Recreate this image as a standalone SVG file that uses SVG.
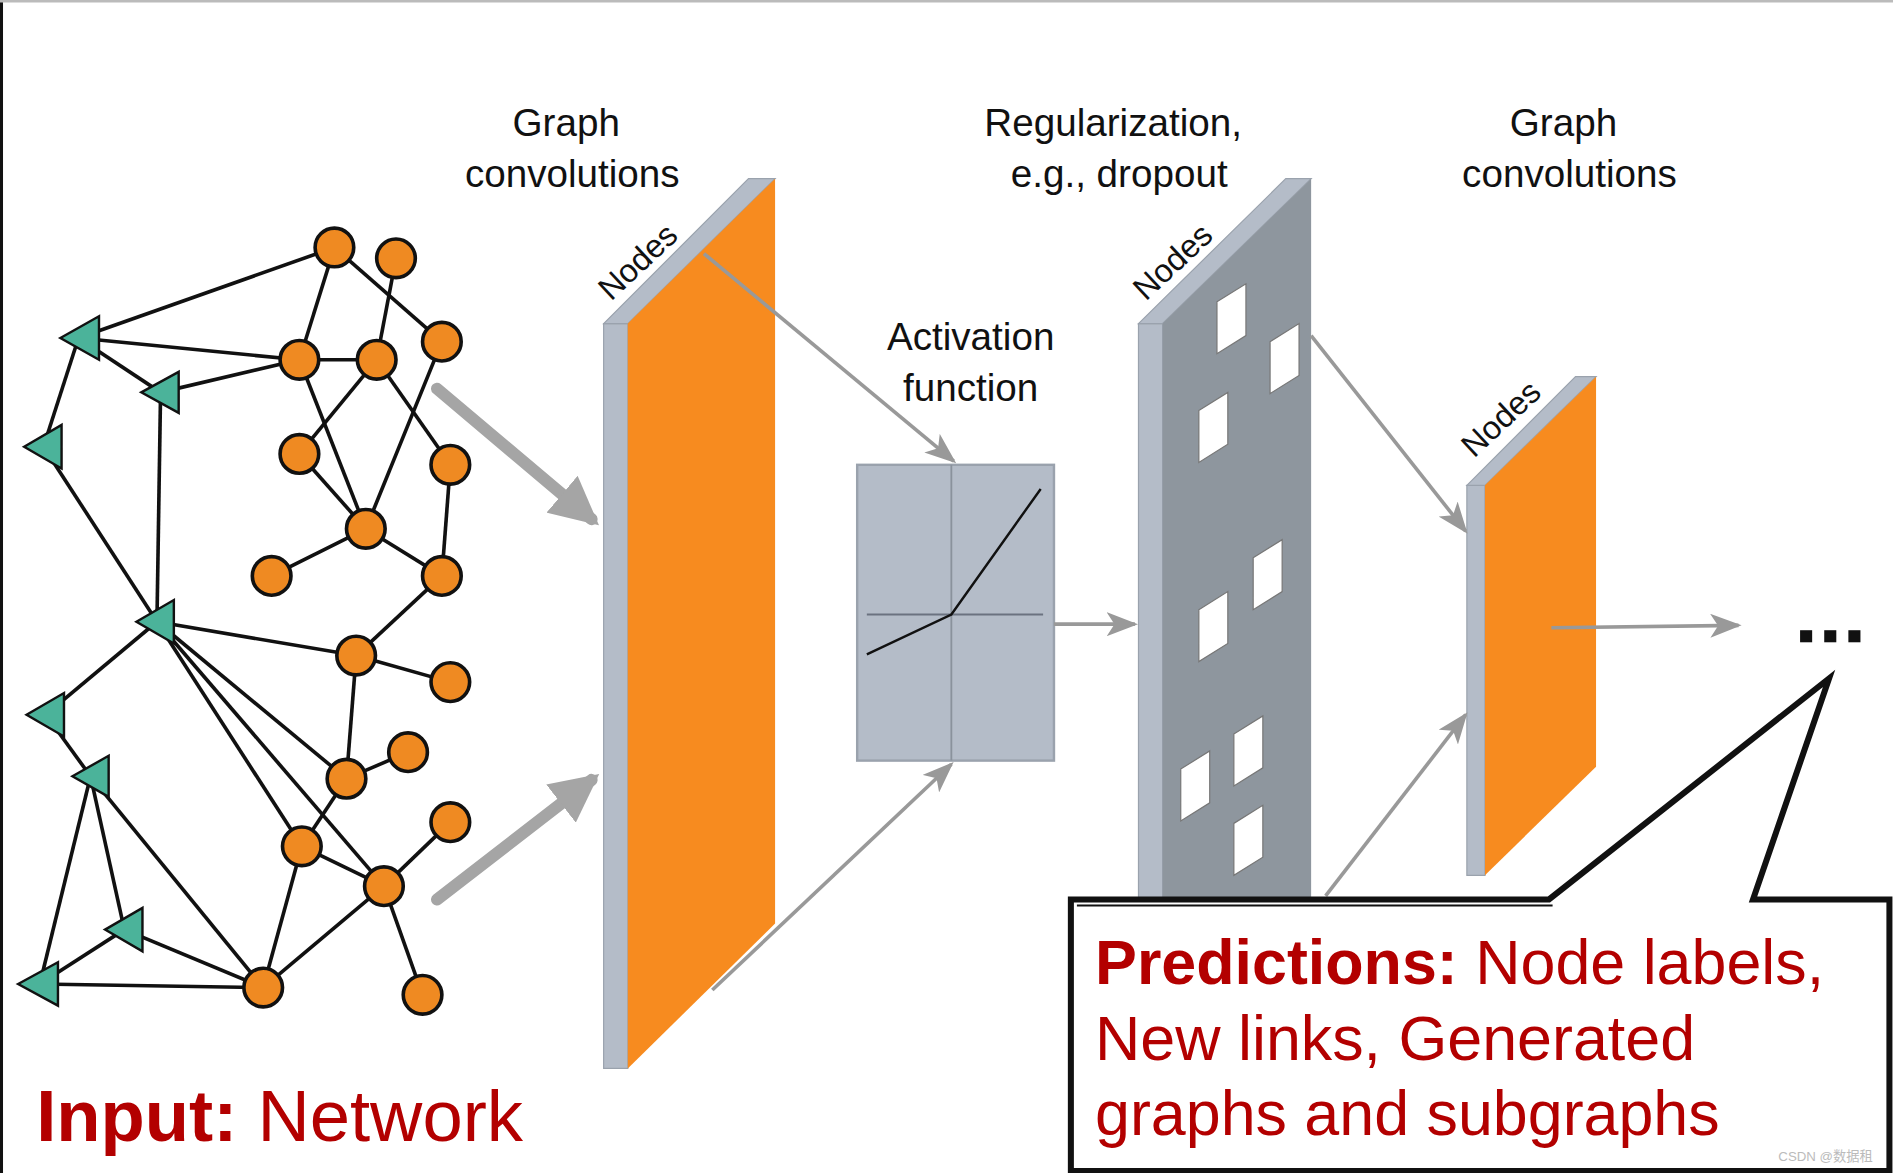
<svg xmlns="http://www.w3.org/2000/svg" width="1893" height="1173" viewBox="0 0 1893 1173">
<defs>
<style>
.e{stroke:#111;stroke-width:3;fill:none}
.o{fill:#ef8a22;stroke:#111;stroke-width:3}
.t{fill:#4bb39a;stroke:#111;stroke-width:2}
.g{stroke:#999;stroke-width:3;fill:none}
.gt{stroke:#a5a5a5;stroke-width:10;fill:none;stroke-linecap:round}
.side{fill:#b4bcc8;stroke:#9aa2ad;stroke-width:1}
.lbl{font-family:"Liberation Sans",Arial,sans-serif;font-size:32px;fill:#111;text-anchor:middle}
.nd{font-family:"Liberation Sans",Arial,sans-serif;font-size:27px;fill:#111}
.red{font-family:"Liberation Sans",Arial,sans-serif;font-size:52px;fill:#b30000}
.win{fill:#fff;stroke:#777;stroke-width:1}
</style>
<marker id="ah" viewBox="0 0 10 10" refX="9" refY="5" markerWidth="26" markerHeight="20" orient="auto" markerUnits="userSpaceOnUse" preserveAspectRatio="none"><path d="M0,0 L10,5 L0,10 L2.5,5 Z" fill="#999"/></marker>
<marker id="ahb" viewBox="0 0 10 10" refX="8" refY="5" markerWidth="4" markerHeight="4" orient="auto"><path d="M0,0 L10,5 L0,10 Z" fill="#a5a5a5"/></marker>
</defs>
<rect width="1893" height="1173" fill="#fff"/>
<g transform="scale(1.2073)">
<line x1="1" y1="0" x2="1" y2="972" stroke="#111" stroke-width="3"/>
<line x1="0" y1="1" x2="1568" y2="1" stroke="#bbb" stroke-width="2"/>

<g id="connectors">
<g class="e">
<line x1="65" y1="280" x2="277" y2="205"/><line x1="65" y1="280" x2="248" y2="298"/><line x1="65" y1="280" x2="133" y2="325"/>
<line x1="65" y1="280" x2="36" y2="370"/><line x1="133" y1="325" x2="248" y2="298"/><line x1="133" y1="325" x2="130" y2="515"/>
<line x1="36" y1="370" x2="130" y2="515"/><line x1="277" y1="205" x2="248" y2="298"/><line x1="277" y1="205" x2="366" y2="283"/>
<line x1="328" y1="214" x2="312" y2="298"/><line x1="248" y1="298" x2="312" y2="298"/><line x1="248" y1="298" x2="303" y2="438"/>
<line x1="312" y1="298" x2="248" y2="376"/><line x1="312" y1="298" x2="373" y2="385"/><line x1="366" y1="283" x2="303" y2="438"/>
<line x1="248" y1="376" x2="303" y2="438"/><line x1="225" y1="477" x2="303" y2="438"/><line x1="303" y1="438" x2="366" y2="477"/>
<line x1="373" y1="385" x2="366" y2="477"/><line x1="366" y1="477" x2="295" y2="543"/><line x1="130" y1="515" x2="295" y2="543"/>
<line x1="295" y1="543" x2="373" y2="565"/><line x1="295" y1="543" x2="287" y2="645"/><line x1="287" y1="645" x2="338" y2="623"/>
<line x1="130" y1="515" x2="287" y2="645"/><line x1="130" y1="515" x2="318" y2="734"/><line x1="130" y1="515" x2="250" y2="701"/>
<line x1="130" y1="515" x2="38" y2="592"/><line x1="38" y1="592" x2="75" y2="643"/><line x1="75" y1="643" x2="33" y2="815"/>
<line x1="75" y1="643" x2="103" y2="770"/><line x1="75" y1="643" x2="218" y2="818"/><line x1="103" y1="770" x2="218" y2="818"/>
<line x1="103" y1="770" x2="33" y2="815"/><line x1="33" y1="815" x2="218" y2="818"/><line x1="250" y1="701" x2="287" y2="645"/>
<line x1="250" y1="701" x2="318" y2="734"/><line x1="250" y1="701" x2="218" y2="818"/><line x1="318" y1="734" x2="218" y2="818"/>
<line x1="318" y1="734" x2="373" y2="681"/><line x1="318" y1="734" x2="350" y2="824"/>
</g>
<line class="gt" x1="362" y1="322" x2="490" y2="430" marker-end="url(#ahb)"/>
<line class="gt" x1="362" y1="745" x2="490" y2="646" marker-end="url(#ahb)"/>
</g>

<g id="graph-nodes">
<circle class="o" cx="277" cy="205" r="16"/><circle class="o" cx="328" cy="214" r="16"/><circle class="o" cx="366" cy="283" r="16"/>
<circle class="o" cx="248" cy="298" r="16"/><circle class="o" cx="312" cy="298" r="16"/><circle class="o" cx="248" cy="376" r="16"/>
<circle class="o" cx="373" cy="385" r="16"/><circle class="o" cx="303" cy="438" r="16"/><circle class="o" cx="225" cy="477" r="16"/>
<circle class="o" cx="366" cy="477" r="16"/><circle class="o" cx="295" cy="543" r="16"/><circle class="o" cx="373" cy="565" r="16"/>
<circle class="o" cx="287" cy="645" r="16"/><circle class="o" cx="338" cy="623" r="16"/><circle class="o" cx="250" cy="701" r="16"/>
<circle class="o" cx="373" cy="681" r="16"/><circle class="o" cx="318" cy="734" r="16"/><circle class="o" cx="218" cy="818" r="16"/>
<circle class="o" cx="350" cy="824" r="16"/>
<polygon class="t" points="50,280 82,262 82,298"/><polygon class="t" points="117,325 148,308 148,342"/>
<polygon class="t" points="20,370 51,352 51,388"/><polygon class="t" points="113,515 144,497 144,533"/>
<polygon class="t" points="22,592 53,574 53,610"/><polygon class="t" points="60,643 90,626 90,660"/>
<polygon class="t" points="87,770 118,752 118,788"/><polygon class="t" points="15,815 48,797 48,833"/>
</g>

<g id="panel1">
<polygon class="side" points="500,268 520,268 520,885 500,885"/>
<polygon class="side" points="500,268 620,148 642,148 520,268"/>
<polygon points="520,268 642,148 642,765 520,885" fill="#f78b1f"/>
<text class="nd" transform="translate(506,250) rotate(-43)">Nodes</text>
</g>

<g id="activation">
<rect x="710" y="385" width="163" height="245" fill="#b4bcc8" stroke="#9aa2ad" stroke-width="2"/>
<line x1="788" y1="385" x2="788" y2="630" stroke="#8a929c" stroke-width="1.5"/>
<line x1="718" y1="509" x2="864" y2="509" stroke="#6b7280" stroke-width="1.5"/>
<polyline points="718,542 788,509 862,405" fill="none" stroke="#111" stroke-width="2"/>
</g>

<g id="panel2">
<polygon class="side" points="943,268 963,268 963,745 943,745"/>
<polygon class="side" points="943,268 1065,148 1086,148 963,268"/>
<polygon points="963,268 1086,148 1086,745 963,745" fill="#8e969e"/>
<g class="win">
<polygon points="1008,250 1032,235 1032,278 1008,293"/>
<polygon points="1052,283 1076,268 1076,311 1052,326"/>
<polygon points="993,340 1017,325 1017,368 993,383"/>
<polygon points="1038,462 1062,447 1062,490 1038,505"/>
<polygon points="993,505 1017,490 1017,533 993,548"/>
<polygon points="1022,608 1046,593 1046,636 1022,651"/>
<polygon points="978,637 1002,622 1002,665 978,680"/>
<polygon points="1022,682 1046,667 1046,710 1022,725"/>
</g>
<text class="nd" transform="translate(949,250) rotate(-43)">Nodes</text>
</g>

<g id="panel3">
<polygon class="side" points="1215,402 1230,402 1230,725 1215,725"/>
<polygon class="side" points="1215,402 1305,312 1322,312 1230,402"/>
<polygon points="1230,402 1322,312 1322,635 1230,725" fill="#f78b1f"/>
<text class="nd" transform="translate(1221,380) rotate(-43)">Nodes</text>
</g>

<g id="flow-arrows">
<line class="g" x1="583" y1="210" x2="790" y2="382" marker-end="url(#ah)"/>
<line class="g" x1="590" y1="820" x2="788" y2="633" marker-end="url(#ah)"/>
<line class="g" x1="873" y1="517" x2="940" y2="517" marker-end="url(#ah)"/>
<line class="g" x1="1086" y1="278" x2="1214" y2="440" marker-end="url(#ah)"/>
<line class="g" x1="1098" y1="742" x2="1214" y2="592" marker-end="url(#ah)"/>
<line class="g" x1="1285" y1="520" x2="1440" y2="518" marker-end="url(#ah)"/>
</g>

<g id="labels">
<text class="lbl" x="469" y="113">Graph</text><text class="lbl" x="474" y="155">convolutions</text>
<text class="lbl" x="922" y="113">Regularization,</text><text class="lbl" x="927" y="155">e.g., dropout</text>
<text class="lbl" x="804" y="290">Activation</text><text class="lbl" x="804" y="332">function</text>
<text class="lbl" x="1295" y="113">Graph</text><text class="lbl" x="1300" y="155">convolutions</text>
<g fill="#111"><rect x="1491" y="522" width="10" height="10"/><rect x="1511" y="522" width="10" height="10"/><rect x="1531" y="522" width="10" height="10"/></g>
</g>

<g id="callout">
<path d="M887,745 L1283,745 L1515,562 L1452,745 L1565,745 L1565,970 L887,970 Z" fill="#fff" stroke="#111" stroke-width="5"/>
<path d="M892,750 L1286,750" stroke="#111" stroke-width="1.5" fill="none"/>
<text class="red" x="907" y="815"><tspan font-weight="bold">Predictions:</tspan> Node labels,</text>
<text class="red" x="907" y="878">New links, Generated</text>
<text class="red" x="907" y="940">graphs and subgraphs</text>
</g>

<text id="input-label" x="30" y="945" font-family="Liberation Sans,Arial,sans-serif" font-size="60" fill="#b30000"><tspan font-weight="bold">Input:</tspan> Network</text>
<text x="1473" y="962" font-family="Liberation Sans,'Noto Sans CJK SC',sans-serif" font-size="11" fill="#bbb">CSDN @数据租</text>
</g>
</svg>
